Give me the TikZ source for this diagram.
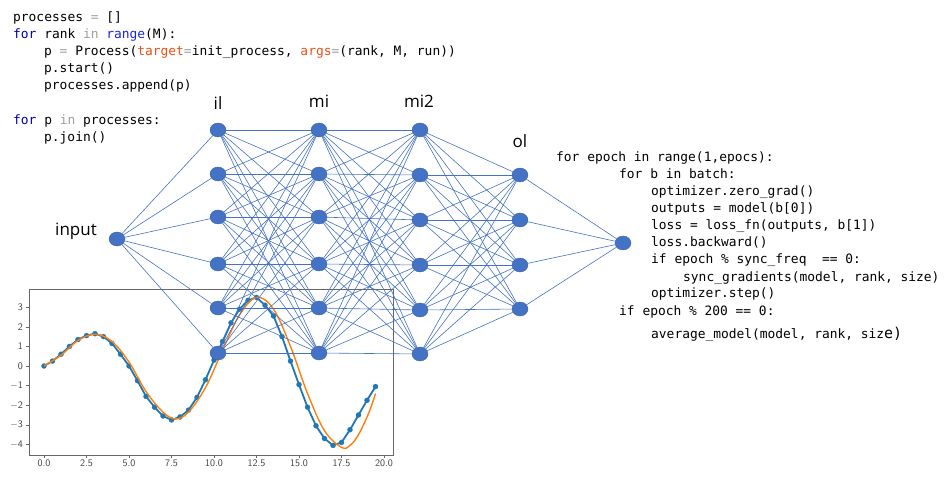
\documentclass[tikz,border=0pt]{standalone}
\usepackage{fontspec}
\usetikzlibrary{shapes.geometric}
\setmainfont{Open Sans}
\setmonofont{DejaVu Sans Mono}
\definecolor{nn}{HTML}{4472C4}
\definecolor{mblue}{HTML}{1F77B4}
\definecolor{morange}{HTML}{FF7F0E}
\definecolor{kw}{RGB}{0,0,170}
\definecolor{bi}{RGB}{20,40,230}
\definecolor{arg}{RGB}{235,80,20}
\definecolor{gr}{RGB}{160,160,160}
\begin{document}
\begin{tikzpicture}[x=1pt,y=-1pt,
  code/.style={anchor=base west,inner sep=0,font=\ttfamily\fontsize{12.9}{15}\selectfont},
  lab/.style={anchor=base,inner sep=0,font=\fontsize{17}{20}\selectfont},
  tick/.style={inner sep=0,font=\sffamily\fontsize{10}{11}\selectfont,text=black!75},
  neuron/.style={ellipse,fill=nn,draw=nn!80!black,line width=0.3pt,minimum width=16pt,minimum height=14pt,inner sep=0},
  edge/.style={nn,line width=0.6pt}]
\useasboundingbox (0,0) rectangle (950,494);
% ---- plot ----
\draw[black!60,line width=0.8pt] (29,289) rectangle (393,455);
\foreach \v in {3,2,1,0,-1,-2,-3,-4}{
  \draw[black!60] (29,366-19.6*\v) -- (26,366-19.6*\v);
  \node[tick,anchor=east] (yt\v) at (23,366-19.6*\v) {$\mathsf{\v}$};}
\foreach \v/\t in {0/0.0,2.5/2.5,5/5.0,7.5/7.5,10/10.0,12.5/12.5,15/15.0,17.5/17.5,20/20.0}{
  \draw[black!60] (44+17*\v,455) -- (44+17*\v,458);
  \node[tick,anchor=north] (xt\v) at (44+17*\v,460) {\t};}
\begin{scope}[shift={(44,366)},x=17pt,y=19.6pt]
\draw[mblue,line width=1.8pt,line join=round] plot[mark=*,mark size=2.6pt,mark options={fill=mblue,draw=mblue,line width=0.1pt}] coordinates {(0,0) (0.5,0.25) (1,0.6) (1.5,1.0) (2,1.35) (2.5,1.55) (3,1.65) (3.5,1.5) (4,1.15) (4.5,0.6) (5,0) (5.5,-0.75) (6,-1.55) (6.5,-2.1) (7,-2.55) (7.5,-2.75) (8,-2.6) (8.5,-2.25) (9,-1.6) (9.5,-0.7) (10,0.3) (10.5,1.25) (11,2.2) (11.5,2.9) (12,3.35) (12.5,3.5) (13,3.1) (13.5,2.55) (14,1.5) (14.5,0.25) (15,-0.95) (15.5,-2.1) (16,-3.05) (16.5,-3.7) (17,-4.05) (17.5,-3.9) (18,-3.25) (18.5,-2.5) (19,-1.75) (19.5,-1.05)};
\draw[morange,line width=1.4pt] plot[smooth,tension=0.6] coordinates {(0,0) (1,0.55) (2,1.3) (3,1.62) (4,1.25) (5,0.2) (6,-1.3) (7,-2.35) (7.75,-2.7) (8.5,-2.35) (9.5,-1.1) (10.5,0.8) (11.5,2.6) (12.5,3.5) (13.5,2.9) (14.5,1.0) (15.5,-1.4) (16.5,-3.3) (17.5,-4.15) (18,-4.05) (18.5,-3.5) (19.1,-2.4) (19.5,-1.4)};
\end{scope}
% ---- network ----
\node[neuron] (in) at (117,239) {};
\foreach \i/\y in {1/130,2/174,3/217,4/264,5/308,6/353}{
  \node[neuron] (a\i) at (218,\y) {};
  \node[neuron] (b\i) at (319,\y) {};}
\foreach \i/\y in {1/130,2/175,3/220,4/265,5/310,6/354}{
  \node[neuron] (c\i) at (420,\y) {};}
\foreach \i/\y in {1/175,2/220,3/265,4/309}{
  \node[neuron] (d\i) at (520,\y) {};}
\node[neuron] (out) at (623,243) {};
\foreach \i in {1,...,6}{
  \draw[edge] (in) -- (a\i);
  \foreach \j in {1,...,6}{ \draw[edge] (a\i) -- (b\j); \draw[edge] (b\i) -- (c\j); }
  \foreach \j in {1,...,4}{ \draw[edge] (c\i) -- (d\j); }}
\foreach \j in {1,...,4}{ \draw[edge] (d\j) -- (out); }
\node[lab] (lil) at (218,110) {il};
\node[lab] (lmi) at (319,108) {mi};
\node[lab] (lmi2) at (419,108) {mi2};
\node[lab] (lol) at (520,148) {ol};
\node[lab] (lin) at (76,236) {input};
% ---- code left ----
\node[code] (l1) at (13,22) {processes \textcolor{gr}{=} []};
\node[code] (l2) at (13,39) {\textcolor{kw}{for} rank \textcolor{gr}{in} \textcolor{bi}{range}(M):};
\node[code] (l3) at (44,56) {p \textcolor{gr}{=} Process(\textcolor{arg}{target}\textcolor{gr}{=}init\_process, \textcolor{arg}{args}\textcolor{gr}{=}(rank, M, run))};
\node[code] (l4) at (44,73) {p.start()};
\node[code] (l5) at (44,90) {processes.append(p)};
\node[code] (l6) at (13,125) {\textcolor{kw}{for} p \textcolor{gr}{in} processes:};
\node[code] (l7) at (44,142) {p.join()};
% ---- code right ----
\node[code] (r1) at (556,162) {for epoch in range(1,epocs):};
\node[code] (r2) at (619,179) {for b in batch:};
\node[code] (r3) at (651,196) {optimizer.zero\_grad()};
\node[code] (r4) at (651,213) {outputs = model(b[0])};
\node[code] (r5) at (651,230) {loss = loss\_fn(outputs, b[1])};
\node[code] (r6) at (651,247) {loss.backward()};
\node[code] (r7) at (651,264) {if epoch \% sync\_freq\ \ == 0:};
\node[code] (r8) at (683,281) {sync\_gradients(model, rank, size)};
\node[code] (r9) at (651,298) {optimizer.step()};
\node[code] (r10) at (619,315) {if epoch \% 200 == 0:};
\node[code] (r11) at (651,338) {average\_model(model, rank, siz{\fontsize{15}{15}\selectfont e)}};
\end{tikzpicture}
\end{document}
